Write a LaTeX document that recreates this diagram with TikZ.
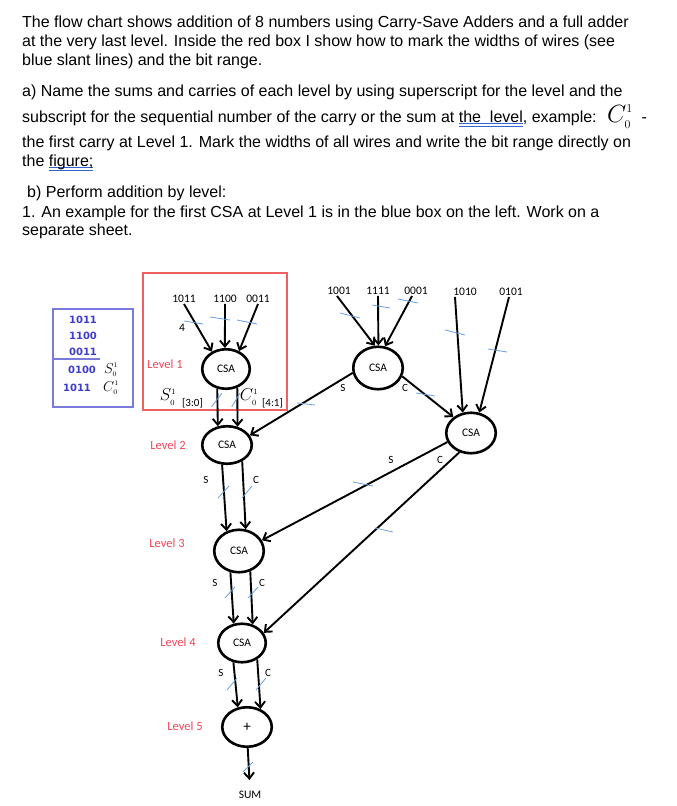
\documentclass[tikz,border=0pt]{standalone}
\usepackage{fontspec}
\setmainfont{Liberation Sans}
\newfontfamily\carl{Carlito}
\newfontfamily\dejav{DejaVu Sans}
\usetikzlibrary{shapes.geometric,arrows.meta}
\definecolor{boxred}{RGB}{238,96,96}
\definecolor{boxblue}{RGB}{122,122,222}
\definecolor{numblue}{RGB}{60,60,205}
\definecolor{lvlred}{RGB}{245,70,85}
\definecolor{tickblue}{RGB}{105,160,225}
\definecolor{ulblue}{RGB}{50,100,210}
\newsavebox\myulbox
\newcommand\dblul[1]{\sbox\myulbox{#1}\rlap{\textcolor{ulblue}{\rule[-2.2pt]{\wd\myulbox}{0.8pt}}}\rlap{\textcolor{ulblue}{\rule[-4.4pt]{\wd\myulbox}{0.8pt}}}\usebox\myulbox}
\begin{document}
\begin{tikzpicture}[x=1pt,y=-1pt,
  para/.style={anchor=base west, inner sep=0pt, font=\fontsize{16}{19}\selectfont},
  csa/.style={ellipse, draw, line width=2.6pt, inner sep=0pt, font=\carl\fontsize{11.5}{11.5}\selectfont},
  lbl/.style={inner sep=1pt, font=\carl\fontsize{11.5}{12}\selectfont},
  sclbl/.style={inner sep=1pt, font=\carl\fontsize{11}{12}\selectfont},
  lvl/.style={inner sep=1pt, text=lvlred, font=\carl\fontsize{12.5}{12.5}\selectfont},
  bnum/.style={inner sep=1pt, text=numblue, font=\dejav\bfseries\fontsize{10}{10}\selectfont},
  mth/.style={inner sep=0pt},
  arr/.style={line width=1.9pt, -{Straight Barb[length=6pt,width=10pt]}},
  tk/.style={draw=tickblue, line width=0.8pt}]
\useasboundingbox (0,0) rectangle (677,806);

% ---------- text ----------
\node[para] (t1) at (22,27) {The flow chart shows addition of 8 numbers using Carry-Save Adders and a full adder};
\node[para] (t2) at (22,46) {at the very last level. Inside the red box I show how to mark the widths of wires (see};
\node[para] (t3) at (22,65) {blue slant lines) and the bit range.};
\node[para] (t4) at (22,96) {a) Name the sums and carries of each level by using superscript for the level and the};
\node[para] (t5) at (22,122) {subscript for the sequential number of the carry or the sum at \dblul{the\ \ level}, example: \ {\fontsize{23}{23}\selectfont$C^{\scriptscriptstyle 1}_{\scriptscriptstyle 0}$}\ \ -};
\node[para] (t6) at (22,147) {the first carry at Level 1. Mark the widths of all wires and write the bit range directly on};
\node[para] (t7) at (22,166) {the \dblul{figure;}};
\node[para] (t8) at (27,197) {b) Perform addition by level:};
\node[para] (t9) at (22,217) {1. An example for the first CSA at Level 1 is in the blue box on the left. Work on a};
\node[para] (t10) at (22,235) {separate sheet.};

% ---------- blue box ----------
\draw[draw=boxblue, line width=1.2pt] (53,309) rectangle (133,407);
\node[bnum] (b1) at (83,320) {1011};
\node[bnum] (b2) at (83,336) {1100};
\node[bnum] (b3) at (83,352) {0011};
\draw[draw=boxblue, line width=1.1pt] (52,359) -- (100,359);
\node[bnum] (b4) at (82,370) {0100};
\node[bnum] (b5) at (77,388) {1011};
\node[mth, font=\fontsize{15}{15}\selectfont] (bs) at (111,370) {$S^{\scriptscriptstyle 1}_{\scriptscriptstyle 0}$};
\node[mth, font=\fontsize{15}{15}\selectfont] (bc) at (111,388) {$C^{\scriptscriptstyle 1}_{\scriptscriptstyle 0}$};

% ---------- red box ----------
\draw[draw=boxred, line width=1.2pt] (143,273) rectangle (287,410);

% ---------- inputs ----------
\node[lbl] (i1) at (184,299) {1011};
\node[lbl] (i2) at (225,299) {1100};
\node[lbl] (i3) at (258,299) {0011};
\node[lbl] (i4) at (339,291) {1001};
\node[lbl] (i5) at (378,291) {1111};
\node[lbl] (i6) at (416,291) {0001};
\node[lbl] (i7) at (465,292) {1010};
\node[lbl] (i8) at (511,292) {0101};
\node[lbl] (w4) at (182,328) {4};

% ---------- adders ----------
\node[csa, minimum width=47.5pt, minimum height=39.5pt] (c1) at (226,369) {CSA};
\node[csa, minimum width=49.5pt, minimum height=42.5pt] (c1b) at (378,368) {CSA};
\node[csa, minimum width=49.5pt, minimum height=37.5pt] (c2) at (227,445) {CSA};
\node[csa, minimum width=49.5pt, minimum height=40.5pt] (c2b) at (471,433) {CSA};
\node[csa, minimum width=49.5pt, minimum height=42.5pt] (c3) at (239,551) {CSA};
\node[csa, minimum width=47.5pt, minimum height=38.5pt] (c4) at (242,643) {CSA};
\node[csa, minimum width=49.5pt, minimum height=39.5pt, font=\carl\fontsize{15}{15}\selectfont] (add) at (247,727) {+};
\node[lbl] (sum) at (250,795) {SUM};

% ---------- level labels ----------
\node[lvl] (l1) at (165,364) {Level 1};
\node[lvl] (l2) at (168,445) {Level 2};
\node[lvl] (l3) at (167,543) {Level 3};
\node[lvl] (l4) at (178,642) {Level 4};
\node[lvl] (l5) at (185,726) {Level 5};

% ---------- S/C annotations in red box ----------
\node[mth, font=\fontsize{17}{17}\selectfont] (s10) at (168,397) {$S^{\scriptscriptstyle 1}_{\scriptscriptstyle 0}$};
\node[sclbl] (s10r) at (192.5,403) {[3:0]};
\node[mth, font=\fontsize{17}{17}\selectfont] (c10) at (249,397) {$C^{\scriptscriptstyle 1}_{\scriptscriptstyle 0}$};
\node[sclbl] (c10r) at (272.5,403) {[4:1]};

% ---------- S/C labels ----------
\node[sclbl] (s1b) at (343,388) {S};
\node[sclbl] (k1b) at (405,388) {C};
\node[sclbl] (s2b) at (391,460) {S};
\node[sclbl] (k2b) at (440,460) {C};
\node[sclbl] (s2) at (206,480) {S};
\node[sclbl] (k2) at (256,480) {C};
\node[sclbl] (s3) at (215,583) {S};
\node[sclbl] (k3) at (262,583) {C};
\node[sclbl] (s4) at (221,673) {S};
\node[sclbl] (k4) at (268,673) {C};

% ---------- input arrows ----------
\draw[arr] (i1.south) -- (c1.129);
\draw[arr] (i2.south) -- (c1.93);
\draw[arr] (i3.south) -- (c1.54);
\draw[arr] ([xshift=-2pt]i4.south) -- (c1b.98);
\draw[arr] (i5.south) -- (c1b.89);
\draw[arr] ([xshift=-4pt]i6.south) -- (c1b.72);
\draw[arr] ([xshift=-10pt]i7.south) -- (c2b.112);
\draw[arr] ([xshift=-2pt]i8.south) -- (c2b.68);

% ---------- internal arrows ----------
\draw[arr] (c1.246.6) -- (c2.116.9);
\draw[arr] (c1.301.3) -- (c2.60.4);
\draw[arr] (c1b.191) -- (c2.23);
\draw[arr] (c1b.341) -- (c2b.138);
\draw[arr] (c2.256.5) -- (c3.122);
\draw[arr] (c2.313) -- (c3.73);
\draw[arr] (c2b.201) -- (c3.25);
\draw[arr] (c2b.239) -- (c4.25);
\draw[arr] (c3.248.1) -- (c4.113.8);
\draw[arr] (c3.299.4) -- (c4.60.8);
\draw[arr] (c4.246.2) -- (add.115.8);
\draw[arr] (c4.313) -- (add.53.7);
\draw[arr, shorten >=10pt] (add.272) -- (sum.north);

% ---------- width ticks ----------
\draw[tk] (184,321) -- (203,324);
\draw[tk] (210,317) -- (230,320);
\draw[tk] (237,320) -- (257,324);
\draw[tk] (211.7,406.7) -- (221.7,393.3);
\draw[tk] (231.7,406.7) -- (240,393.3);
\draw[tk] (297,403) -- (315,405);
\draw[tk] (340,313) -- (360,318);
\draw[tk] (372,305) -- (390,308);
\draw[tk] (398,299) -- (418,303);
\draw[tk] (445,330) -- (465,335);
\draw[tk] (488,349) -- (507,352);
\draw[tk] (416,393) -- (435,396);
\draw[tk] (353,482) -- (373,486);
\draw[tk] (375,528) -- (393,532);
\draw[tk] (218,498) -- (229,486);
\draw[tk] (242,498) -- (252,486);
\draw[tk] (225,598) -- (235,587);
\draw[tk] (248,598) -- (258,587);
\draw[tk] (227,690) -- (237,678);
\draw[tk] (256,690) -- (266,678);
\draw[tk] (243,772) -- (253,762);
\end{tikzpicture}
\end{document}
